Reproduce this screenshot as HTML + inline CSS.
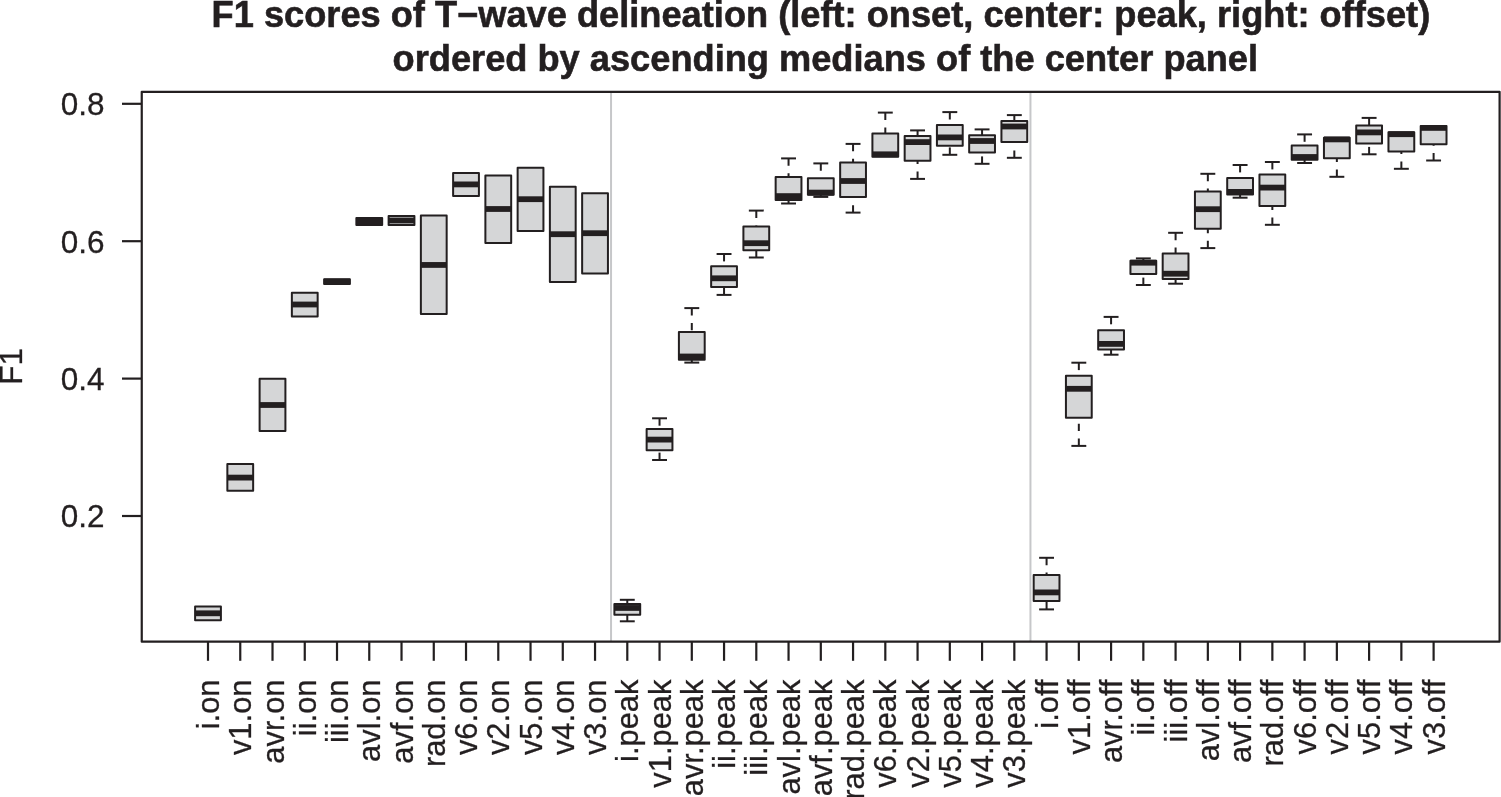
<!DOCTYPE html>
<html lang="en"><head><meta charset="utf-8"><title>F1 scores of T-wave delineation</title>
<style>html,body{margin:0;padding:0;background:#fff;}body{width:1501px;height:797px;overflow:hidden;}svg{display:block;}text{font-family:"Liberation Sans",Arial,Helvetica,sans-serif;fill:#231f20;stroke:#231f20;stroke-width:0.3px;}.t{font-weight:bold;font-size:36.2px;text-anchor:middle;stroke-width:0.6px;}.a{font-size:31.5px;}.x{font-size:30.9px;}</style></head><body>
<svg width="1501" height="797" viewBox="0 0 1501 797">
<rect width="1501" height="797" fill="#fff"/>
<text class="t" x="820.9" y="26.5" textLength="1218.7" lengthAdjust="spacingAndGlyphs">F1 scores of T−wave delineation (left: onset, center: peak, right: offset)</text>
<text class="t" x="825.3" y="71.1" textLength="865.4" lengthAdjust="spacingAndGlyphs">ordered by ascending medians of the center panel</text>
<line x1="611.05" y1="91.85" x2="611.05" y2="641.7" stroke="#c6c7c9" stroke-width="2"/>
<line x1="1030.45" y1="91.85" x2="1030.45" y2="641.7" stroke="#c6c7c9" stroke-width="2"/>
<g stroke="#231f20" stroke-width="2.0" fill="none" stroke-linecap="butt" stroke-linejoin="round">
<rect x="195.10" y="606.40" width="25.80" height="13.90" fill="#d5d6d7"/>
<path d="M195.10 613.30H220.90" stroke-width="5.8"/>
<rect x="227.35" y="464.00" width="25.80" height="26.80" fill="#d5d6d7"/>
<path d="M227.35 477.60H253.15" stroke-width="5.8"/>
<rect x="259.61" y="378.70" width="25.80" height="52.40" fill="#d5d6d7"/>
<path d="M259.61 405.00H285.41" stroke-width="5.8"/>
<rect x="291.86" y="292.70" width="25.80" height="23.80" fill="#d5d6d7"/>
<path d="M291.86 304.50H317.66" stroke-width="5.8"/>
<rect x="324.11" y="279.20" width="25.80" height="4.70" fill="#d5d6d7"/>
<path d="M324.11 281.55H349.91" stroke-width="5.8"/>
<rect x="356.37" y="217.90" width="25.80" height="7.10" fill="#d5d6d7"/>
<path d="M356.37 221.45H382.16" stroke-width="5.8"/>
<rect x="388.62" y="216.05" width="25.80" height="8.95" fill="#d5d6d7"/>
<path d="M388.62 220.50H414.42" stroke-width="5.8"/>
<rect x="420.87" y="215.40" width="25.80" height="98.60" fill="#d5d6d7"/>
<path d="M420.87 264.95H446.67" stroke-width="5.8"/>
<rect x="453.12" y="172.90" width="25.80" height="23.10" fill="#d5d6d7"/>
<path d="M453.12 184.40H478.92" stroke-width="5.8"/>
<rect x="485.38" y="175.60" width="25.80" height="67.40" fill="#d5d6d7"/>
<path d="M485.38 209.00H511.18" stroke-width="5.8"/>
<rect x="517.63" y="167.80" width="25.80" height="63.30" fill="#d5d6d7"/>
<path d="M517.63 199.20H543.43" stroke-width="5.8"/>
<rect x="549.88" y="186.80" width="25.80" height="95.10" fill="#d5d6d7"/>
<path d="M549.88 234.20H575.68" stroke-width="5.8"/>
<rect x="582.14" y="193.20" width="25.80" height="80.40" fill="#d5d6d7"/>
<path d="M582.14 233.20H607.94" stroke-width="5.8"/>
<path d="M627.29 599.80V604.10" stroke-dasharray="7.4 7.4"/>
<path d="M619.84 599.80H634.74"/>
<path d="M627.29 621.30V614.80" stroke-dasharray="7.4 7.4"/>
<path d="M619.84 621.30H634.74"/>
<rect x="614.39" y="604.10" width="25.80" height="10.70" fill="#d5d6d7"/>
<path d="M614.39 607.95H640.19" stroke-width="5.8"/>
<path d="M659.54 418.30V429.10" stroke-dasharray="7.4 7.4"/>
<path d="M652.09 418.30H666.99"/>
<path d="M659.54 460.00V450.20" stroke-dasharray="7.4 7.4"/>
<path d="M652.09 460.00H666.99"/>
<rect x="646.64" y="429.10" width="25.80" height="21.10" fill="#d5d6d7"/>
<path d="M646.64 439.60H672.44" stroke-width="5.8"/>
<path d="M691.80 308.10V332.00" stroke-dasharray="7.4 7.4"/>
<path d="M684.35 308.10H699.25"/>
<path d="M691.80 362.60V359.80" stroke-dasharray="7.4 7.4"/>
<path d="M684.35 362.60H699.25"/>
<rect x="678.90" y="332.00" width="25.80" height="27.80" fill="#d5d6d7"/>
<path d="M678.90 356.50H704.70" stroke-width="5.8"/>
<path d="M724.05 254.00V266.30" stroke-dasharray="7.4 7.4"/>
<path d="M716.60 254.00H731.50"/>
<path d="M724.05 294.90V286.90" stroke-dasharray="7.4 7.4"/>
<path d="M716.60 294.90H731.50"/>
<rect x="711.15" y="266.30" width="25.80" height="20.60" fill="#d5d6d7"/>
<path d="M711.15 278.30H736.95" stroke-width="5.8"/>
<path d="M756.30 210.60V226.60" stroke-dasharray="7.4 7.4"/>
<path d="M748.85 210.60H763.75"/>
<path d="M756.30 257.50V250.20" stroke-dasharray="7.4 7.4"/>
<path d="M748.85 257.50H763.75"/>
<rect x="743.40" y="226.60" width="25.80" height="23.60" fill="#d5d6d7"/>
<path d="M743.40 243.20H769.20" stroke-width="5.8"/>
<path d="M788.55 158.40V176.90" stroke-dasharray="7.4 7.4"/>
<path d="M781.10 158.40H796.00"/>
<path d="M788.55 203.50V200.00" stroke-dasharray="7.4 7.4"/>
<path d="M781.10 203.50H796.00"/>
<rect x="775.65" y="176.90" width="25.80" height="23.10" fill="#d5d6d7"/>
<path d="M775.65 196.10H801.45" stroke-width="5.8"/>
<path d="M820.81 163.40V178.20" stroke-dasharray="7.4 7.4"/>
<path d="M813.36 163.40H828.26"/>
<path d="M820.81 196.90V194.80" stroke-dasharray="7.4 7.4"/>
<path d="M813.36 196.90H828.26"/>
<rect x="807.91" y="178.20" width="25.80" height="16.60" fill="#d5d6d7"/>
<path d="M807.91 192.60H833.71" stroke-width="5.8"/>
<path d="M853.06 143.90V162.40" stroke-dasharray="7.4 7.4"/>
<path d="M845.61 143.90H860.51"/>
<path d="M853.06 212.60V197.00" stroke-dasharray="7.4 7.4"/>
<path d="M845.61 212.60H860.51"/>
<rect x="840.16" y="162.40" width="25.80" height="34.60" fill="#d5d6d7"/>
<path d="M840.16 181.00H865.96" stroke-width="5.8"/>
<path d="M885.31 112.60V133.60" stroke-dasharray="7.4 7.4"/>
<path d="M877.86 112.60H892.76"/>
<rect x="872.41" y="133.60" width="25.80" height="23.10" fill="#d5d6d7"/>
<path d="M872.41 154.30H898.21" stroke-width="5.8"/>
<path d="M917.57 130.40V136.10" stroke-dasharray="7.4 7.4"/>
<path d="M910.12 130.40H925.02"/>
<path d="M917.57 178.90V160.70" stroke-dasharray="7.4 7.4"/>
<path d="M910.12 178.90H925.02"/>
<rect x="904.67" y="136.10" width="25.80" height="24.60" fill="#d5d6d7"/>
<path d="M904.67 142.10H930.47" stroke-width="5.8"/>
<path d="M949.82 112.10V124.90" stroke-dasharray="7.4 7.4"/>
<path d="M942.37 112.10H957.27"/>
<path d="M949.82 154.80V145.70" stroke-dasharray="7.4 7.4"/>
<path d="M942.37 154.80H957.27"/>
<rect x="936.92" y="124.90" width="25.80" height="20.80" fill="#d5d6d7"/>
<path d="M936.92 137.40H962.72" stroke-width="5.8"/>
<path d="M982.07 129.40V135.20" stroke-dasharray="7.4 7.4"/>
<path d="M974.62 129.40H989.52"/>
<path d="M982.07 163.80V152.50" stroke-dasharray="7.4 7.4"/>
<path d="M974.62 163.80H989.52"/>
<rect x="969.17" y="135.20" width="25.80" height="17.30" fill="#d5d6d7"/>
<path d="M969.17 141.00H994.97" stroke-width="5.8"/>
<path d="M1014.33 115.10V120.90" stroke-dasharray="7.4 7.4"/>
<path d="M1006.88 115.10H1021.78"/>
<path d="M1014.33 157.80V142.00" stroke-dasharray="7.4 7.4"/>
<path d="M1006.88 157.80H1021.78"/>
<rect x="1001.43" y="120.90" width="25.80" height="21.10" fill="#d5d6d7"/>
<path d="M1001.43 126.50H1027.23" stroke-width="5.8"/>
<path d="M1046.58 557.80V575.00" stroke-dasharray="7.4 7.4"/>
<path d="M1039.13 557.80H1054.03"/>
<path d="M1046.58 609.40V601.00" stroke-dasharray="7.4 7.4"/>
<path d="M1039.13 609.40H1054.03"/>
<rect x="1033.68" y="575.00" width="25.80" height="26.00" fill="#d5d6d7"/>
<path d="M1033.68 592.40H1059.48" stroke-width="5.8"/>
<path d="M1078.83 362.70V375.80" stroke-dasharray="7.4 7.4"/>
<path d="M1071.38 362.70H1086.28"/>
<path d="M1078.83 445.90V417.80" stroke-dasharray="7.4 7.4"/>
<path d="M1071.38 445.90H1086.28"/>
<rect x="1065.93" y="375.80" width="25.80" height="42.00" fill="#d5d6d7"/>
<path d="M1065.93 388.80H1091.73" stroke-width="5.8"/>
<path d="M1111.08 316.90V330.30" stroke-dasharray="7.4 7.4"/>
<path d="M1103.63 316.90H1118.53"/>
<path d="M1111.08 354.70V349.60" stroke-dasharray="7.4 7.4"/>
<path d="M1103.63 354.70H1118.53"/>
<rect x="1098.18" y="330.30" width="25.80" height="19.30" fill="#d5d6d7"/>
<path d="M1098.18 343.90H1123.98" stroke-width="5.8"/>
<path d="M1143.34 258.40V260.70" stroke-dasharray="7.4 7.4"/>
<path d="M1135.89 258.40H1150.79"/>
<path d="M1143.34 285.00V274.00" stroke-dasharray="7.4 7.4"/>
<path d="M1135.89 285.00H1150.79"/>
<rect x="1130.44" y="260.70" width="25.80" height="13.30" fill="#d5d6d7"/>
<path d="M1130.44 262.70H1156.24" stroke-width="5.8"/>
<path d="M1175.59 232.80V253.40" stroke-dasharray="7.4 7.4"/>
<path d="M1168.14 232.80H1183.04"/>
<path d="M1175.59 283.70V279.00" stroke-dasharray="7.4 7.4"/>
<path d="M1168.14 283.70H1183.04"/>
<rect x="1162.69" y="253.40" width="25.80" height="25.60" fill="#d5d6d7"/>
<path d="M1162.69 273.70H1188.49" stroke-width="5.8"/>
<path d="M1207.84 173.80V191.60" stroke-dasharray="7.4 7.4"/>
<path d="M1200.39 173.80H1215.29"/>
<path d="M1207.84 248.10V228.80" stroke-dasharray="7.4 7.4"/>
<path d="M1200.39 248.10H1215.29"/>
<rect x="1194.94" y="191.60" width="25.80" height="37.20" fill="#d5d6d7"/>
<path d="M1194.94 209.20H1220.74" stroke-width="5.8"/>
<path d="M1240.10 165.00V178.10" stroke-dasharray="7.4 7.4"/>
<path d="M1232.65 165.00H1247.55"/>
<path d="M1240.10 197.70V194.60" stroke-dasharray="7.4 7.4"/>
<path d="M1232.65 197.70H1247.55"/>
<rect x="1227.20" y="178.10" width="25.80" height="16.50" fill="#d5d6d7"/>
<path d="M1227.20 191.90H1253.00" stroke-width="5.8"/>
<path d="M1272.35 162.00V174.60" stroke-dasharray="7.4 7.4"/>
<path d="M1264.90 162.00H1279.80"/>
<path d="M1272.35 224.80V206.00" stroke-dasharray="7.4 7.4"/>
<path d="M1264.90 224.80H1279.80"/>
<rect x="1259.45" y="174.60" width="25.80" height="31.40" fill="#d5d6d7"/>
<path d="M1259.45 187.60H1285.25" stroke-width="5.8"/>
<path d="M1304.60 134.40V145.50" stroke-dasharray="7.4 7.4"/>
<path d="M1297.15 134.40H1312.05"/>
<path d="M1304.60 163.00V159.80" stroke-dasharray="7.4 7.4"/>
<path d="M1297.15 163.00H1312.05"/>
<rect x="1291.70" y="145.50" width="25.80" height="14.30" fill="#d5d6d7"/>
<path d="M1291.70 157.00H1317.50" stroke-width="5.8"/>
<path d="M1336.86 176.80V158.30" stroke-dasharray="7.4 7.4"/>
<path d="M1329.40 176.80H1344.31"/>
<rect x="1323.95" y="137.70" width="25.80" height="20.60" fill="#d5d6d7"/>
<path d="M1323.95 139.40H1349.76" stroke-width="5.8"/>
<path d="M1369.11 117.90V125.40" stroke-dasharray="7.4 7.4"/>
<path d="M1361.66 117.90H1376.56"/>
<path d="M1369.11 154.30V143.50" stroke-dasharray="7.4 7.4"/>
<path d="M1361.66 154.30H1376.56"/>
<rect x="1356.21" y="125.40" width="25.80" height="18.10" fill="#d5d6d7"/>
<path d="M1356.21 132.40H1382.01" stroke-width="5.8"/>
<path d="M1401.36 168.80V151.50" stroke-dasharray="7.4 7.4"/>
<path d="M1393.91 168.80H1408.81"/>
<rect x="1388.46" y="132.20" width="25.80" height="19.30" fill="#d5d6d7"/>
<path d="M1388.46 134.20H1414.26" stroke-width="5.8"/>
<path d="M1433.61 160.50V144.20" stroke-dasharray="7.4 7.4"/>
<path d="M1426.16 160.50H1441.06"/>
<rect x="1420.71" y="126.10" width="25.80" height="18.10" fill="#d5d6d7"/>
<path d="M1420.71 127.90H1446.51" stroke-width="5.8"/>
</g>
<g stroke="#231f20" stroke-width="2.2" fill="none" stroke-linejoin="round">
<rect x="141.75" y="91.85" width="1357.85" height="549.85"/>
<path d="M141.75 103.8H122.0"/>
<path d="M141.75 241.2H122.0"/>
<path d="M141.75 378.6H122.0"/>
<path d="M141.75 516.0H122.0"/>
<path d="M208.00 641.7V660.8"/>
<path d="M240.25 641.7V660.8"/>
<path d="M272.51 641.7V660.8"/>
<path d="M304.76 641.7V660.8"/>
<path d="M337.01 641.7V660.8"/>
<path d="M369.26 641.7V660.8"/>
<path d="M401.52 641.7V660.8"/>
<path d="M433.77 641.7V660.8"/>
<path d="M466.02 641.7V660.8"/>
<path d="M498.28 641.7V660.8"/>
<path d="M530.53 641.7V660.8"/>
<path d="M562.78 641.7V660.8"/>
<path d="M595.04 641.7V660.8"/>
<path d="M627.29 641.7V660.8"/>
<path d="M659.54 641.7V660.8"/>
<path d="M691.80 641.7V660.8"/>
<path d="M724.05 641.7V660.8"/>
<path d="M756.30 641.7V660.8"/>
<path d="M788.55 641.7V660.8"/>
<path d="M820.81 641.7V660.8"/>
<path d="M853.06 641.7V660.8"/>
<path d="M885.31 641.7V660.8"/>
<path d="M917.57 641.7V660.8"/>
<path d="M949.82 641.7V660.8"/>
<path d="M982.07 641.7V660.8"/>
<path d="M1014.33 641.7V660.8"/>
<path d="M1046.58 641.7V660.8"/>
<path d="M1078.83 641.7V660.8"/>
<path d="M1111.08 641.7V660.8"/>
<path d="M1143.34 641.7V660.8"/>
<path d="M1175.59 641.7V660.8"/>
<path d="M1207.84 641.7V660.8"/>
<path d="M1240.10 641.7V660.8"/>
<path d="M1272.35 641.7V660.8"/>
<path d="M1304.60 641.7V660.8"/>
<path d="M1336.86 641.7V660.8"/>
<path d="M1369.11 641.7V660.8"/>
<path d="M1401.36 641.7V660.8"/>
<path d="M1433.61 641.7V660.8"/>
</g>
<text class="a" transform="translate(104.6 115.25) scale(1 1.012)" text-anchor="end">0.8</text>
<text class="a" transform="translate(104.6 252.65) scale(1 1.012)" text-anchor="end">0.6</text>
<text class="a" transform="translate(104.6 390.05) scale(1 1.012)" text-anchor="end">0.4</text>
<text class="a" transform="translate(104.6 527.45) scale(1 1.012)" text-anchor="end">0.2</text>
<text class="a" transform="translate(22.3 366.4) rotate(-90) scale(1 1.012)" text-anchor="middle">F1</text>
<text class="x" transform="translate(219.00 679.5) rotate(-90)" text-anchor="end">i.on</text>
<text class="x" transform="translate(251.25 679.5) rotate(-90)" text-anchor="end">v1.on</text>
<text class="x" transform="translate(283.51 679.5) rotate(-90)" text-anchor="end">avr.on</text>
<text class="x" transform="translate(315.76 679.5) rotate(-90)" text-anchor="end">ii.on</text>
<text class="x" transform="translate(348.01 679.5) rotate(-90)" text-anchor="end">iii.on</text>
<text class="x" transform="translate(380.26 679.5) rotate(-90)" text-anchor="end">avl.on</text>
<text class="x" transform="translate(412.52 679.5) rotate(-90)" text-anchor="end">avf.on</text>
<text class="x" transform="translate(444.77 679.5) rotate(-90)" text-anchor="end">rad.on</text>
<text class="x" transform="translate(477.02 679.5) rotate(-90)" text-anchor="end">v6.on</text>
<text class="x" transform="translate(509.28 679.5) rotate(-90)" text-anchor="end">v2.on</text>
<text class="x" transform="translate(541.53 679.5) rotate(-90)" text-anchor="end">v5.on</text>
<text class="x" transform="translate(573.78 679.5) rotate(-90)" text-anchor="end">v4.on</text>
<text class="x" transform="translate(606.04 679.5) rotate(-90)" text-anchor="end">v3.on</text>
<text class="x" transform="translate(638.29 679.5) rotate(-90)" text-anchor="end">i.peak</text>
<text class="x" transform="translate(670.54 679.5) rotate(-90)" text-anchor="end">v1.peak</text>
<text class="x" transform="translate(702.80 679.5) rotate(-90)" text-anchor="end">avr.peak</text>
<text class="x" transform="translate(735.05 679.5) rotate(-90)" text-anchor="end">ii.peak</text>
<text class="x" transform="translate(767.30 679.5) rotate(-90)" text-anchor="end">iii.peak</text>
<text class="x" transform="translate(799.55 679.5) rotate(-90)" text-anchor="end">avl.peak</text>
<text class="x" transform="translate(831.81 679.5) rotate(-90)" text-anchor="end">avf.peak</text>
<text class="x" transform="translate(864.06 679.5) rotate(-90)" text-anchor="end">rad.peak</text>
<text class="x" transform="translate(896.31 679.5) rotate(-90)" text-anchor="end">v6.peak</text>
<text class="x" transform="translate(928.57 679.5) rotate(-90)" text-anchor="end">v2.peak</text>
<text class="x" transform="translate(960.82 679.5) rotate(-90)" text-anchor="end">v5.peak</text>
<text class="x" transform="translate(993.07 679.5) rotate(-90)" text-anchor="end">v4.peak</text>
<text class="x" transform="translate(1025.33 679.5) rotate(-90)" text-anchor="end">v3.peak</text>
<text class="x" transform="translate(1057.58 679.5) rotate(-90)" text-anchor="end">i.off</text>
<text class="x" transform="translate(1089.83 679.5) rotate(-90)" text-anchor="end">v1.off</text>
<text class="x" transform="translate(1122.08 679.5) rotate(-90)" text-anchor="end">avr.off</text>
<text class="x" transform="translate(1154.34 679.5) rotate(-90)" text-anchor="end">ii.off</text>
<text class="x" transform="translate(1186.59 679.5) rotate(-90)" text-anchor="end">iii.off</text>
<text class="x" transform="translate(1218.84 679.5) rotate(-90)" text-anchor="end">avl.off</text>
<text class="x" transform="translate(1251.10 679.5) rotate(-90)" text-anchor="end">avf.off</text>
<text class="x" transform="translate(1283.35 679.5) rotate(-90)" text-anchor="end">rad.off</text>
<text class="x" transform="translate(1315.60 679.5) rotate(-90)" text-anchor="end">v6.off</text>
<text class="x" transform="translate(1347.86 679.5) rotate(-90)" text-anchor="end">v2.off</text>
<text class="x" transform="translate(1380.11 679.5) rotate(-90)" text-anchor="end">v5.off</text>
<text class="x" transform="translate(1412.36 679.5) rotate(-90)" text-anchor="end">v4.off</text>
<text class="x" transform="translate(1444.61 679.5) rotate(-90)" text-anchor="end">v3.off</text>
</svg></body></html>
